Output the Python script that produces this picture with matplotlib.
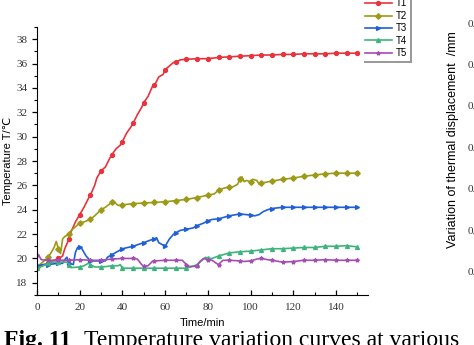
import matplotlib
matplotlib.use('Agg')
import matplotlib.pyplot as plt
from matplotlib.ticker import MultipleLocator

# T1 (red)
t1_time = [0, 5, 10, 12, 13, 15, 16, 18, 20, 22, 24, 25, 27, 28, 30, 32, 34, 35, 37, 39,
           40, 42, 44, 45, 47, 49, 50, 52, 54, 55, 57, 59, 60, 62, 64, 65, 67, 70, 75, 80,
           85, 90, 95, 100, 105, 110, 115, 120, 125, 130, 135, 140, 145, 150]
t1_temp = [19.3, 19.6, 20.0, 20.2, 20.8, 21.6, 22.2, 23.0, 23.6, 24.2, 24.9, 25.2, 26.0, 26.6,
           27.2, 27.5, 28.2, 28.5, 29.0, 29.3, 29.6, 30.3, 30.8, 31.1, 31.8, 32.4, 32.8, 33.3,
           34.1, 34.2, 34.9, 35.1, 35.5, 35.8, 36.1, 36.1, 36.3, 36.35, 36.4, 36.4, 36.5, 36.55,
           36.6, 36.65, 36.7, 36.7, 36.75, 36.75, 36.8, 36.8, 36.8, 36.85, 36.85, 36.85]

# T2 (olive)
t2_time = [0, 2, 4, 5, 6, 8, 9, 10, 11, 12, 13, 15, 16, 18, 20, 22, 25, 27, 30, 32, 35, 36,
           37, 38, 40, 45, 50, 55, 60, 65, 70, 75, 80, 83, 85, 88, 90, 92, 94, 95, 96, 97, 98,
           100, 101, 103, 104, 105, 107, 110, 115, 120, 125, 130, 135, 140, 145, 150]
t2_temp = [19.3, 19.6, 19.9, 20.1, 20.3, 20.9, 21.4, 20.8, 20.4, 21.6, 21.8, 22.0, 22.3, 22.6,
           22.9, 23.0, 23.2, 23.5, 24.0, 24.2, 24.6, 24.7, 24.5, 24.35, 24.4, 24.5, 24.55, 24.6,
           24.65, 24.75, 24.85, 25.0, 25.2, 25.3, 25.6, 25.8, 25.85, 25.9, 26.1, 26.5, 26.7, 26.3,
           26.4, 26.3, 26.5, 26.4, 26.1, 26.2, 26.25, 26.35, 26.5, 26.6, 26.75, 26.85, 26.95,
           27.0, 27.0, 27.0]

# T3 (blue)
t3_time = [0, 3, 5, 10, 12, 13, 14, 15, 17, 18, 19, 20, 21, 22, 23, 25, 30, 32, 33, 35, 37,
           40, 45, 50, 53, 55, 56, 57, 58, 60, 61, 62, 63, 64, 65, 67, 70, 73, 75, 78, 80, 82,
           85, 88, 90, 95, 98, 100, 102, 104, 106, 108, 110, 115, 120, 125, 130, 135, 140, 145, 150]
t3_temp = [19.4, 19.5, 19.5, 19.6, 19.6, 19.9, 20.1, 19.6, 19.5, 20.5, 20.9, 20.9, 20.8, 20.5,
           20.2, 19.8, 19.8, 19.8, 20.1, 20.3, 20.5, 20.8, 21.0, 21.3, 21.5, 21.6, 21.7, 21.3,
           21.2, 21.0, 21.3, 21.6, 21.8, 22.0, 22.1, 22.3, 22.4, 22.5, 22.7, 22.9, 23.1, 23.2,
           23.25, 23.4, 23.5, 23.65, 23.6, 23.55, 23.5, 23.6, 23.85, 24.0, 24.1, 24.2, 24.2,
           24.2, 24.2, 24.2, 24.2, 24.2, 24.2]

# T4 (green)
t4_time = [0, 3, 5, 7, 10, 14, 15, 16, 20, 22, 24, 25, 27, 30, 33, 35, 38, 39, 40, 45, 50,
           55, 60, 65, 70, 72, 75, 77, 79, 80, 82, 85, 87, 90, 95, 100, 105, 110, 115, 120,
           125, 130, 135, 140, 145, 150]
t4_temp = [19.2, 19.4, 19.6, 19.7, 19.7, 19.7, 19.5, 19.25, 19.3, 19.4, 19.6, 19.5, 19.3, 19.3,
           19.35, 19.4, 19.4, 19.5, 19.2, 19.2, 19.2, 19.2, 19.2, 19.2, 19.2, 19.3, 19.5, 19.8,
           20.1, 20.0, 20.0, 20.2, 20.3, 20.45, 20.55, 20.6, 20.7, 20.8, 20.8, 20.85, 20.9,
           20.9, 21.0, 21.0, 21.05, 20.95]

# T5 (purple)
t5_time = [0, 1, 2, 5, 10, 15, 20, 25, 30, 35, 40, 45, 47, 49, 50, 52, 54, 55, 60, 65, 68,
           70, 71, 75, 76, 78, 80, 82, 84, 85, 87, 90, 95, 97, 100, 103, 105, 108, 110, 115,
           120, 125, 130, 135, 140, 145, 150]
t5_temp = [20.3, 20.2, 19.9, 19.85, 19.85, 19.85, 19.9, 19.85, 19.85, 19.95, 20.0, 20.0, 19.95,
           19.5, 19.35, 19.4, 19.75, 19.8, 19.85, 19.85, 19.85, 19.5, 19.35, 19.35, 19.7, 20.0,
           19.9, 19.85, 19.6, 19.5, 19.85, 19.85, 19.8, 19.75, 19.8, 19.95, 20.0, 19.9, 19.85,
           19.7, 19.75, 19.85, 19.85, 19.9, 19.85, 19.85, 19.85]

# tick values of the neighbouring (cut off) panel
disp_ticks = [0.05, 0.10, 0.15, 0.20, 0.25, 0.30, 0.35]

series = [
    ('T1', t1_time, t1_temp, '#e8333d', 'o'),
    ('T2', t2_time, t2_temp, '#9c9a16', 'D'),
    ('T3', t3_time, t3_temp, '#1f5fd8', '>'),
    ('T4', t4_time, t4_temp, '#3db47c', '^'),
    ('T5', t5_time, t5_temp, '#a54cb5', '*'),
]

serif = ['Liberation Serif', 'DejaVu Serif']
sans = ['Liberation Sans', 'DejaVu Sans']

fig = plt.figure(figsize=(4.74, 3.45), dpi=100)
ax = fig.add_axes([37 / 474, 1 - 295 / 345, 331 / 474, 268 / 345])

for name, tt, vv, col, mk in series:
    marks = [i for i, t in enumerate(tt) if t % 5 == 0]
    ax.plot(tt, vv, color=col, lw=1.2, marker=mk, ms=2.8, markevery=marks, label=name)

ax.set_xlim(0, 155)
ax.set_ylim(17, 39)
ax.xaxis.set_major_locator(MultipleLocator(20))
ax.xaxis.set_minor_locator(MultipleLocator(10))
ax.yaxis.set_major_locator(MultipleLocator(2))
ax.yaxis.set_minor_locator(MultipleLocator(1))
ax.spines['top'].set_visible(False)
ax.spines['right'].set_visible(False)
ax.tick_params(axis='x', which='both', direction='in', pad=6)
ax.tick_params(axis='y', which='both', direction='out')
ax.tick_params(which='major', length=3.5, width=0.9)
ax.tick_params(which='minor', length=2, width=0.8)
for lbl in ax.get_xticklabels() + ax.get_yticklabels():
    lbl.set_family(serif)
    lbl.set_fontsize(8)
    lbl.set_color('#333333')

ax.set_xlabel('Time/min', family=sans, fontsize=8, labelpad=4)
ax.set_ylabel('Temperature T/\u2103', family=sans, fontsize=8, labelpad=2)

leg = ax.legend(loc='lower left', bbox_to_anchor=(357 / 474, 1 - 66 / 345),
                bbox_transform=fig.transFigure, fontsize=7, handlelength=2.8,
                labelspacing=0.25, borderpad=0.3, handletextpad=0.4,
                fancybox=False, shadow={'ox': 1.2, 'oy': -1.2, 'color': '#9a9a9a', 'alpha': 1},
                framealpha=1)
leg.get_frame().set_edgecolor('white')
leg.get_frame().set_linewidth(0)
for txt in leg.get_texts():
    txt.set_family(sans)

# neighbouring panel, cut off at the right edge
ax2 = fig.add_axes([497 / 474, 1 - 313 / 345, 0.3, 290 / 345])
ax2.set_ylim(0.0, 0.35)
ax2.set_yticks(disp_ticks)
ax2.set_xticks([])
for lbl in ax2.get_yticklabels():
    lbl.set_family(serif)
    lbl.set_fontsize(8)
    lbl.set_color('#333333')
fig.text(453 / 474, 1 - 140 / 345, 'Variation of thermal displacement  /mm',
         rotation=90, ha='center', va='center', family=sans, fontsize=9)

# caption, cut off at the bottom
cap1 = fig.text(4 / 474, -1 / 345, 'Fig. 11', family=serif, fontsize=17,
                fontweight='bold', va='baseline')
fig.canvas.draw()
bb = cap1.get_window_extent()
fig.text((bb.x1 + 13) / 474, -1 / 345, 'Temperature variation curves at various',
         family=serif, fontsize=17, va='baseline')

fig.savefig('out.png', dpi=100)
